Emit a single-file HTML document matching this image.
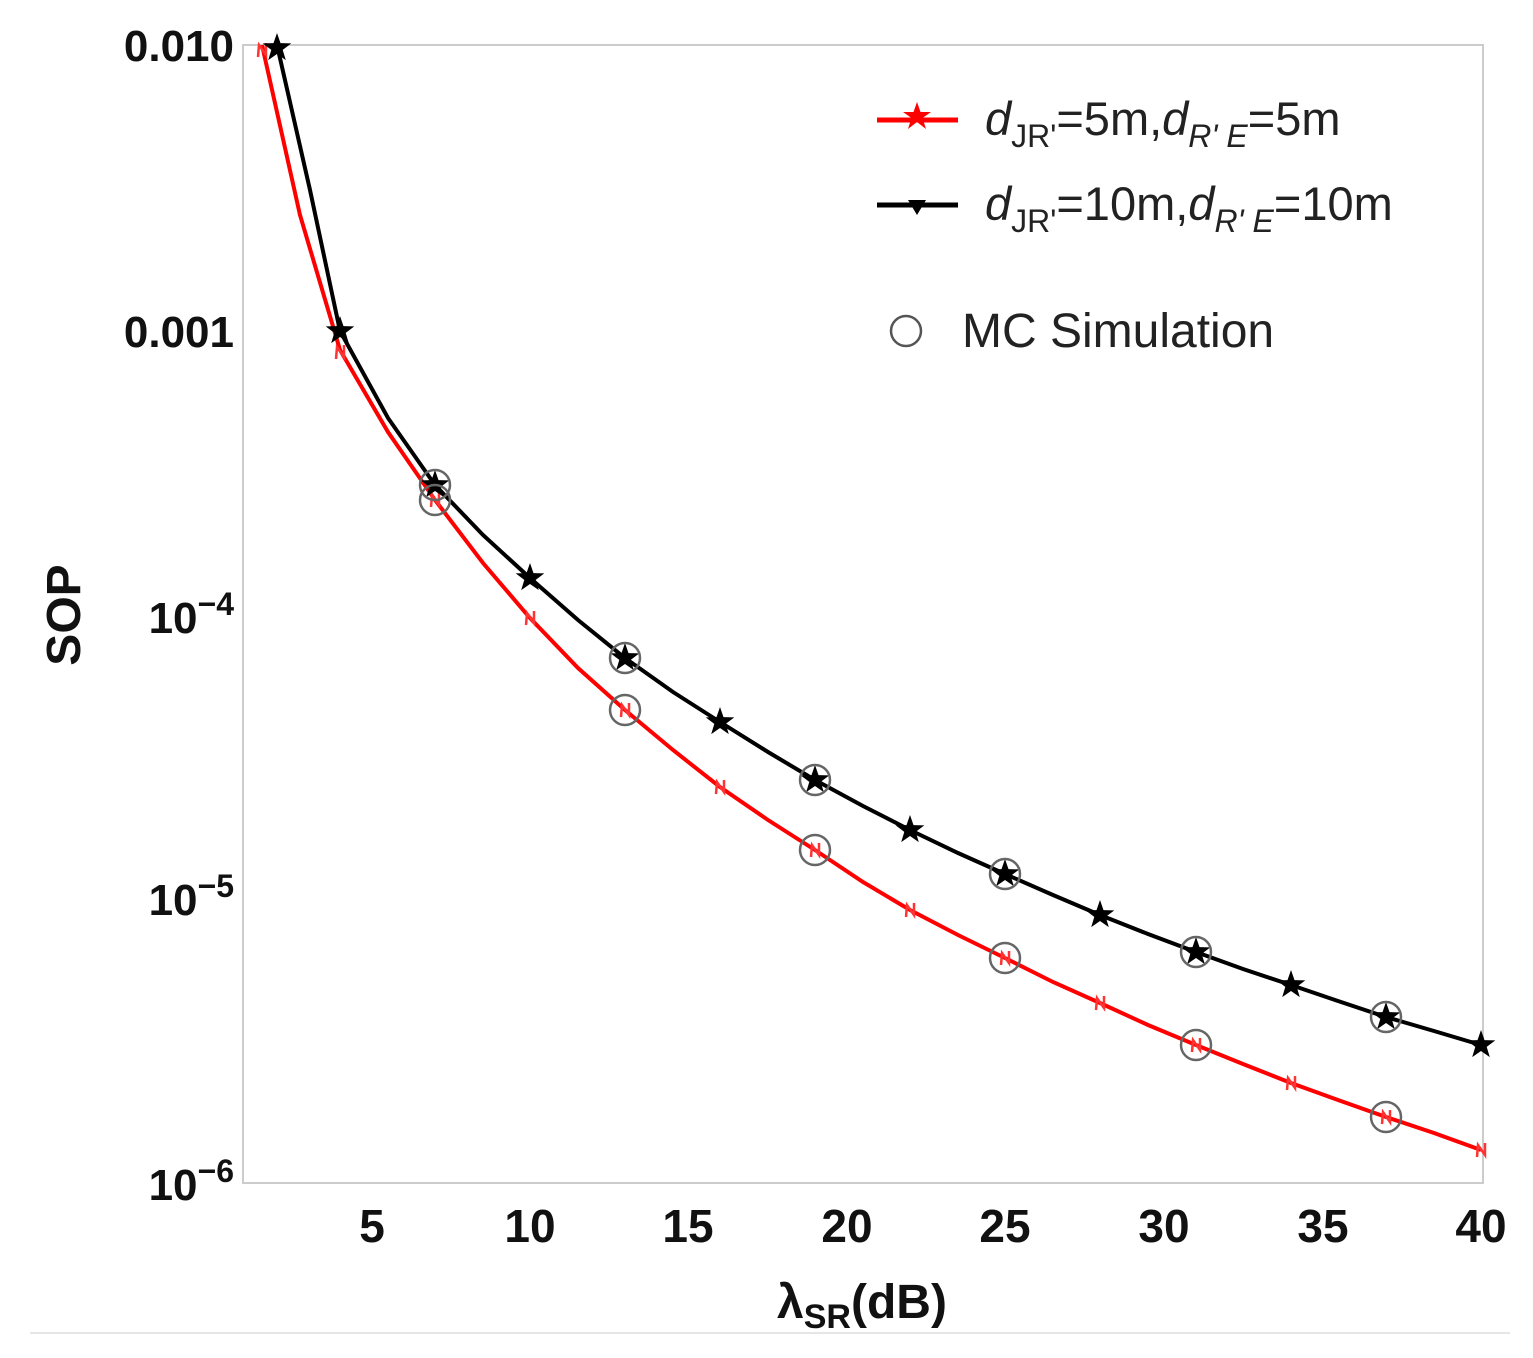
<!DOCTYPE html>
<html><head><meta charset="utf-8"><style>
html,body{margin:0;padding:0;background:#fff}
svg{display:block}
text{font-family:"Liberation Sans",sans-serif}
</style></head><body>
<svg width="1533" height="1358" viewBox="0 0 1533 1358" xmlns="http://www.w3.org/2000/svg">
<defs>
<path id="st" d="M0,-15 L3.5,-4.9 14.3,-4.6 5.7,1.9 8.8,12.1 0,6 -8.8,12.1 -5.7,1.9 -14.3,-4.6 -3.5,-4.9Z" fill="#000"/>
<path id="rm" d="M-4,7 L-3,-5 L4,5 L4,-7" fill="none" stroke="#f33" stroke-width="2.5"/>
</defs>
<rect x="243" y="45" width="1240" height="1138" fill="none" stroke="#ccc" stroke-width="2"/>
<line x1="30" y1="1333" x2="1510" y2="1333" stroke="#e6e6e6" stroke-width="2"/>
<g font-weight="bold" font-size="44" text-anchor="end" fill="#111">
<text x="234" y="61">0.010</text>
<text x="234" y="347">0.001</text>
<text x="234" y="633">10<tspan font-size="32" dy="-18">−4</tspan></text>
<text x="234" y="915">10<tspan font-size="32" dy="-18">−5</tspan></text>
<text x="234" y="1200">10<tspan font-size="32" dy="-18">−6</tspan></text>
</g>
<g font-weight="bold" font-size="46" text-anchor="middle" fill="#111">
<text x="372" y="1242">5</text><text x="530" y="1242">10</text><text x="688" y="1242">15</text>
<text x="847" y="1242">20</text><text x="1005" y="1242">25</text><text x="1164" y="1242">30</text>
<text x="1323" y="1242">35</text><text x="1481" y="1242">40</text>
<text x="862" y="1318" font-size="48">λ<tspan font-size="34" dy="10">SR</tspan><tspan dy="-10">(dB)</tspan></text>
</g>
<text x="80" y="615" font-weight="bold" font-size="48" text-anchor="middle" transform="rotate(-90 80 615)" fill="#111">SOP</text>
<polyline fill="none" stroke="#f00" stroke-width="4" points="262,45 300,215 340,350 388,432 435,500 483,563 530,618 578,668 625,710 673,750 720,787 768,820 815,850 863,882 910,910 958,935 1005,958 1053,982 1100,1003 1148,1025 1196,1045 1243,1064 1291,1083 1338,1100 1386,1117 1434,1133 1481,1150"/>
<polyline fill="none" stroke="#000" stroke-width="4" points="277,45 310,190 340,331 388,418 435,485 483,535 530,578 578,620 625,658 673,692 720,722 768,752 815,780 863,806 910,830 958,853 1005,874 1053,895 1100,915 1148,934 1196,952 1243,969 1291,985 1338,1001 1386,1017 1434,1031 1481,1045"/>
<g>
<use href="#rm" x="262" y="50"/><use href="#rm" x="340" y="352"/><use href="#rm" x="435" y="500"/><use href="#rm" x="530" y="618"/><use href="#rm" x="625" y="710"/><use href="#rm" x="720" y="787"/><use href="#rm" x="815" y="850"/><use href="#rm" x="910" y="910"/><use href="#rm" x="1005" y="958"/><use href="#rm" x="1100" y="1003"/><use href="#rm" x="1196" y="1045"/><use href="#rm" x="1291" y="1083"/><use href="#rm" x="1386" y="1117"/><use href="#rm" x="1481" y="1150"/>
</g>
<g>
<use href="#st" x="277" y="48"/><use href="#st" x="340" y="331"/><use href="#st" x="435" y="485"/><use href="#st" x="530" y="578"/><use href="#st" x="625" y="658"/><use href="#st" x="720" y="722"/><use href="#st" x="815" y="780"/><use href="#st" x="910" y="830"/><use href="#st" x="1005" y="874"/><use href="#st" x="1100" y="915"/><use href="#st" x="1196" y="952"/><use href="#st" x="1291" y="985"/><use href="#st" x="1386" y="1017"/><use href="#st" x="1481" y="1045"/>
</g>
<g fill="none" stroke="#666" stroke-width="2.5">
<circle cx="435" cy="500" r="15"/><circle cx="625" cy="710" r="15"/><circle cx="815" cy="850" r="15"/><circle cx="1005" cy="958" r="15"/><circle cx="1196" cy="1045" r="15"/><circle cx="1386" cy="1117" r="15"/>
<circle cx="435" cy="485" r="15"/><circle cx="625" cy="658" r="15"/><circle cx="815" cy="780" r="15"/><circle cx="1005" cy="874" r="15"/><circle cx="1196" cy="952" r="15"/><circle cx="1386" cy="1017" r="15"/>
</g>
<line x1="877" y1="120" x2="958" y2="120" stroke="#f00" stroke-width="5"/>
<path d="M917,102 L920.5,112 L931,112 L922.5,118 L926,129 L917,122 L908,129 L911.5,118 L903,112 L913.5,112Z" fill="#f00"/>
<line x1="877" y1="205" x2="958" y2="205" stroke="#000" stroke-width="5"/>
<path d="M908,200 L926,200 L917,215Z" fill="#000"/>
<circle cx="906" cy="331" r="15" fill="none" stroke="#555" stroke-width="2.5"/>
<g font-size="47" fill="#222">
<text x="985" y="135"><tspan font-style="italic">d</tspan><tspan font-size="32" dy="12">JR'</tspan><tspan dy="-12">=5m,</tspan><tspan font-style="italic">d</tspan><tspan font-size="32" dy="12" font-style="italic">R' E</tspan><tspan dy="-12">=5m</tspan></text>
<text x="985" y="220"><tspan font-style="italic">d</tspan><tspan font-size="32" dy="12">JR'</tspan><tspan dy="-12">=10m,</tspan><tspan font-style="italic">d</tspan><tspan font-size="32" dy="12" font-style="italic">R' E</tspan><tspan dy="-12">=10m</tspan></text>
<text x="962" y="347" font-size="48">MC Simulation</text>
</g>
</svg>
</body></html>
